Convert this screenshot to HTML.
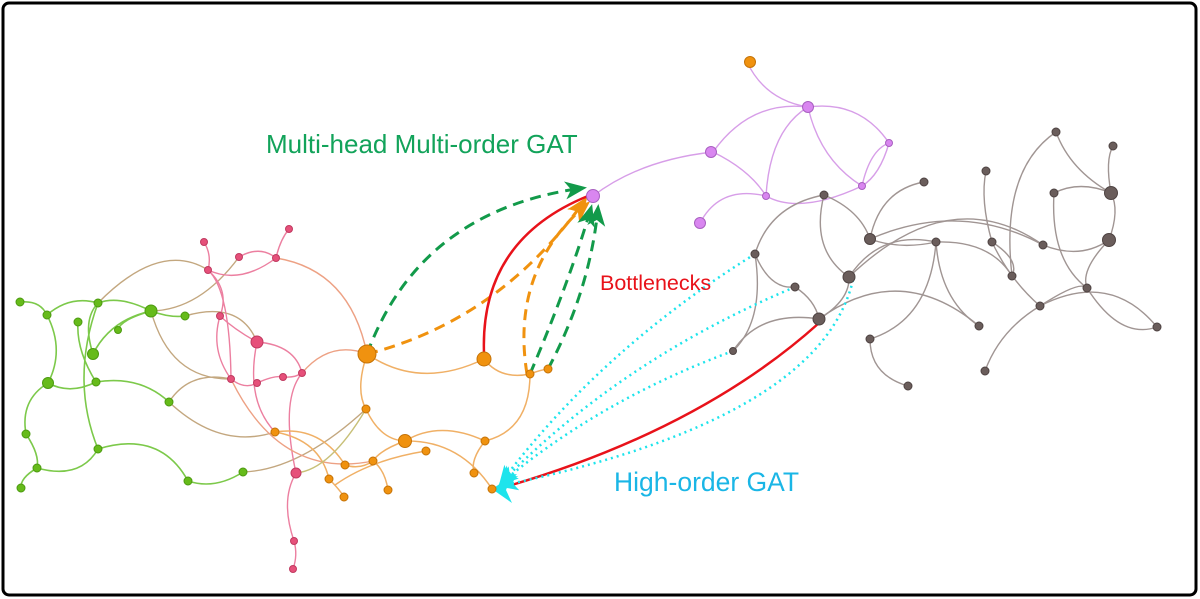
<!DOCTYPE html>
<html><head><meta charset="utf-8"><style>
html,body{margin:0;padding:0;background:#fff}
svg{display:block}
text{font-family:"Liberation Sans",sans-serif}
</style></head><body>
<svg width="1200" height="599" viewBox="0 0 1200 599" xmlns="http://www.w3.org/2000/svg">
<defs>
<marker id="ag" markerWidth="24" markerHeight="20" refX="18" refY="10" orient="auto" markerUnits="userSpaceOnUse"><path d="M0,1 L22,10 L0,19 L6,10z" fill="#129a4a"/></marker>
<marker id="ao" markerWidth="24" markerHeight="20" refX="18" refY="10" orient="auto" markerUnits="userSpaceOnUse"><path d="M0,1 L22,10 L0,19 L6,10z" fill="#f0920f"/></marker>
<marker id="ac" markerWidth="24" markerHeight="20" refX="18" refY="10" orient="auto" markerUnits="userSpaceOnUse"><path d="M0,2 L20,10 L0,18 L5,10z" fill="#1ee4ec"/></marker>
</defs>
<rect x="3" y="3" width="1193" height="592" rx="6" fill="#fff" stroke="#000" stroke-width="3"/>

<g fill="none" stroke="#7cc94a" stroke-width="1.6">
<path d="M20,302 Q40,300 47,315"/><path d="M47,315 Q70,295 98,303"/><path d="M98,303 Q120,295 151,311"/><path d="M151,311 Q170,318 185,316"/>
<path d="M47,315 Q65,350 48,383"/><path d="M98,303 Q82,320 93,354"/><path d="M151,311 Q110,320 93,354"/><path d="M78,322 Q76,350 96,382"/>
<path d="M48,383 Q70,395 96,382"/><path d="M96,382 Q140,375 169,402"/><path d="M48,383 Q20,400 26,434"/><path d="M26,434 Q40,455 37,468"/>
<path d="M37,468 Q20,478 21,488"/><path d="M37,468 Q80,480 98,449"/><path d="M98,449 Q160,430 188,481"/><path d="M188,481 Q215,490 243,472"/>
<path d="M98,303 Q70,380 98,449"/><path d="M151,311 Q120,320 118,330"/>
</g>
<g fill="none" stroke="#c3a77f" stroke-width="1.4">
<path d="M98,303 Q160,240 208,270"/><path d="M151,311 Q200,310 239,257"/><path d="M151,311 Q170,380 231,379"/><path d="M185,316 Q240,300 257,342"/>
<path d="M169,402 Q190,370 231,379"/><path d="M169,402 Q220,450 275,432"/><path d="M243,472 Q300,470 366,409"/>
</g>
<g fill="none" stroke="#ec7fa0" stroke-width="1.4">
<path d="M204,242 Q212,255 208,270"/><path d="M208,270 Q240,285 276,258"/><path d="M239,257 Q260,245 276,258"/><path d="M276,258 Q280,240 289,229"/>
<path d="M208,270 Q230,290 220,316"/><path d="M220,316 Q235,330 257,342"/><path d="M208,270 Q230,290 231,379"/><path d="M220,316 Q210,350 231,379"/>
<path d="M231,379 Q245,390 257,383"/><path d="M257,383 Q275,375 283,377"/><path d="M283,377 Q295,378 302,373"/><path d="M257,342 Q295,345 302,373"/>
<path d="M302,373 Q280,400 296,473"/><path d="M296,473 Q280,500 294,541"/><path d="M294,541 Q298,555 293,569"/><path d="M257,342 Q245,400 275,432"/>
</g>
<g fill="none" stroke="#eda184" stroke-width="1.4">
<path d="M276,258 Q350,270 367,354"/><path d="M302,373 Q330,340 367,354"/><path d="M231,379 Q280,480 373,461"/>
</g>
<g fill="none" stroke="#f0b066" stroke-width="1.5">
<path d="M367,354 Q420,390 484,359"/><path d="M484,359 Q500,380 530,374"/><path d="M530,374 Q540,370 548,369"/>
<path d="M367,354 Q355,390 366,409"/><path d="M366,409 Q380,440 405,441"/><path d="M530,374 Q530,430 485,441"/><path d="M405,441 Q440,420 485,441"/>
<path d="M485,441 Q470,460 474,473"/><path d="M405,441 Q460,440 492,489"/><path d="M405,441 Q380,450 373,461"/><path d="M373,461 Q385,470 388,490"/>
<path d="M275,432 Q320,425 345,465"/><path d="M275,432 Q320,440 329,479"/><path d="M329,479 Q340,490 344,497"/><path d="M345,465 Q360,470 373,461"/><path d="M335,485 Q370,460 426,451"/>
</g>
<path d="M366,409 Q330,470 296,473" fill="none" stroke="#c8c078" stroke-width="1.4"/>
<g fill="none" stroke="#d79ee8" stroke-width="1.4">
<path d="M593,196 Q640,160 713,152"/><path d="M713,152 Q750,170 766,196"/><path d="M713,152 Q750,100 808,107"/><path d="M808,107 Q770,130 766,196"/>
<path d="M808,107 Q860,100 889,143"/><path d="M808,107 Q820,160 862,186"/><path d="M889,143 Q870,150 862,186"/><path d="M889,143 Q880,175 862,186"/>
<path d="M766,196 Q720,185 700,223"/><path d="M808,107 Q765,100 747,62"/><path d="M766,196 Q800,215 862,186"/>
</g>
<g fill="none" stroke="#a09593" stroke-width="1.4">
<path d="M824,195 Q770,205 755,254"/><path d="M824,195 Q810,250 849,277"/><path d="M824,195 Q860,210 870,239"/><path d="M870,239 Q880,190 924,182"/>
<path d="M755,254 Q770,290 795,287"/><path d="M795,287 Q815,300 819,319"/><path d="M755,254 Q765,320 733,351"/><path d="M733,351 Q760,310 819,319"/>
<path d="M819,319 Q850,300 849,277"/><path d="M849,277 Q880,230 936,242"/><path d="M870,239 Q900,250 936,242"/><path d="M936,242 Q930,320 870,339"/>
<path d="M870,339 Q870,375 908,386"/><path d="M936,242 Q940,300 979,326"/><path d="M819,319 Q900,260 979,326"/><path d="M936,242 Q990,240 1012,276"/>
<path d="M849,277 Q950,180 1043,245"/><path d="M870,239 Q960,200 1043,245"/><path d="M992,242 Q980,200 986,171"/><path d="M992,242 Q1010,280 1040,306"/>
<path d="M1040,306 Q1000,330 985,371"/><path d="M1040,306 Q1080,280 1087,288"/><path d="M1040,306 Q1110,270 1157,327"/><path d="M1087,288 Q1120,340 1157,327"/>
<path d="M1043,245 Q1080,260 1109,240"/><path d="M1109,240 Q1080,270 1087,288"/><path d="M1109,240 Q1120,210 1111,193"/><path d="M1054,193 Q1080,180 1111,193"/>
<path d="M1054,193 Q1050,260 1087,288"/><path d="M1056,132 Q1070,170 1111,193"/><path d="M1113,146 Q1105,160 1111,193"/><path d="M1056,132 Q1000,170 1012,276"/><path d="M992,242 Q1020,260 1012,276"/>
</g>

<g fill="none" stroke-width="3">
<path d="M367,354 Q420,210 583,188" stroke="#129a4a" stroke-dasharray="11,7" marker-end="url(#ag)"/>
<path d="M367,354 Q500,320 585,200" stroke="#f0920f" stroke-dasharray="11,7" marker-end="url(#ao)"/>
<path d="M484,353 Q480,240 588,196" stroke="#e8121a" stroke-width="2.5"/>
<path d="M527,374 Q510,270 587,204" stroke="#f0920f" stroke-dasharray="11,7" marker-end="url(#ao)"/>
<path d="M530,374 Q570,280 591,208" stroke="#129a4a" stroke-dasharray="11,7" marker-end="url(#ag)"/>
<path d="M548,369 Q590,290 598,208" stroke="#129a4a" stroke-dasharray="11,7" marker-end="url(#ag)"/>
<path d="M505,487 Q700,430 819,323" stroke="#e8121a" stroke-width="2.5"/>
</g>
<g fill="none" stroke="#1ee4ec" stroke-width="2.5" stroke-dasharray="2,4">
<path d="M755,254 Q600,350 500,484" marker-end="url(#ac)"/>
<path d="M795,287 Q620,360 500,484" marker-end="url(#ac)"/>
<path d="M733,351 Q600,400 500,484" marker-end="url(#ac)"/>
<path d="M853,280 Q820,420 500,486" marker-end="url(#ac)"/>
</g>
<path d="M492,489 L512,476 L506,490 L512,503z" fill="#1ee4ec"/>

<g fill="#66bb1a" stroke="#4c9a10" stroke-width="1">
<circle cx="20" cy="302" r="4"/><circle cx="47" cy="315" r="4"/><circle cx="78" cy="322" r="4"/><circle cx="98" cy="303" r="4"/><circle cx="118" cy="330" r="3.5"/><circle cx="151" cy="311" r="6"/><circle cx="185" cy="316" r="4"/>
<circle cx="93" cy="354" r="5.5"/><circle cx="48" cy="383" r="5.5"/><circle cx="96" cy="382" r="4"/><circle cx="169" cy="402" r="4"/><circle cx="26" cy="434" r="4"/><circle cx="98" cy="449" r="4"/><circle cx="37" cy="468" r="4"/><circle cx="21" cy="488" r="4"/><circle cx="188" cy="481" r="4"/><circle cx="243" cy="472" r="4"/>
</g>
<g fill="#e6507a" stroke="#c03a60" stroke-width="1">
<circle cx="204" cy="242" r="3.5"/><circle cx="289" cy="229" r="3.5"/><circle cx="239" cy="257" r="3.5"/><circle cx="276" cy="258" r="3.5"/><circle cx="208" cy="270" r="3.5"/><circle cx="220" cy="316" r="3.5"/><circle cx="257" cy="342" r="6"/>
<circle cx="231" cy="379" r="3.5"/><circle cx="257" cy="383" r="3.5"/><circle cx="283" cy="377" r="3.5"/><circle cx="302" cy="373" r="3.5"/><circle cx="296" cy="473" r="5"/><circle cx="294" cy="541" r="3.5"/><circle cx="293" cy="569" r="3.5"/>
</g>
<g fill="#f0920f" stroke="#c57308" stroke-width="1">
<circle cx="367" cy="354" r="9"/><circle cx="366" cy="409" r="4"/><circle cx="405" cy="441" r="6.5"/><circle cx="275" cy="432" r="4"/><circle cx="345" cy="465" r="4"/><circle cx="329" cy="479" r="4"/><circle cx="344" cy="497" r="4"/>
<circle cx="373" cy="461" r="4"/><circle cx="388" cy="490" r="4"/><circle cx="426" cy="451" r="4"/><circle cx="484" cy="359" r="7"/><circle cx="485" cy="441" r="4"/><circle cx="474" cy="473" r="4"/><circle cx="492" cy="489" r="4"/><circle cx="530" cy="374" r="4"/><circle cx="548" cy="369" r="4"/><circle cx="750" cy="62" r="5.5"/>
</g>
<g fill="#d986f0" stroke="#a860c0" stroke-width="1">
<circle cx="593" cy="196" r="6.5"/><circle cx="711" cy="152" r="5.5"/><circle cx="808" cy="107" r="5.5"/><circle cx="889" cy="143" r="3.5"/><circle cx="862" cy="186" r="3.5"/><circle cx="766" cy="196" r="3.5"/><circle cx="700" cy="223" r="5.5"/>
</g>
<g fill="#6a5d5b" stroke="#4e4342" stroke-width="1">
<circle cx="824" cy="195" r="4"/><circle cx="924" cy="182" r="4"/><circle cx="870" cy="239" r="5.5"/><circle cx="936" cy="242" r="4"/><circle cx="992" cy="242" r="4"/><circle cx="1043" cy="245" r="4"/><circle cx="1012" cy="276" r="4"/>
<circle cx="1109" cy="240" r="6.5"/><circle cx="1111" cy="193" r="6.5"/><circle cx="1054" cy="193" r="4"/><circle cx="1056" cy="132" r="4"/><circle cx="1113" cy="146" r="4"/><circle cx="986" cy="171" r="4"/><circle cx="1087" cy="288" r="4"/>
<circle cx="1040" cy="306" r="4"/><circle cx="1157" cy="327" r="4"/><circle cx="979" cy="326" r="4"/><circle cx="985" cy="371" r="4"/><circle cx="870" cy="339" r="4"/><circle cx="908" cy="386" r="4"/><circle cx="849" cy="277" r="6"/><circle cx="819" cy="319" r="6"/>
<circle cx="795" cy="287" r="4"/><circle cx="755" cy="254" r="4"/><circle cx="733" cy="351" r="3.5"/>
</g>

<text x="266" y="153" font-size="26" fill="#12a35a">Multi-head Multi-order GAT</text>
<text x="600" y="290" font-size="21.5" fill="#e8121a">Bottlenecks</text>
<text x="614" y="491" font-size="26.5" fill="#1ab6e6">High-order GAT</text>
</svg>
</body></html>
